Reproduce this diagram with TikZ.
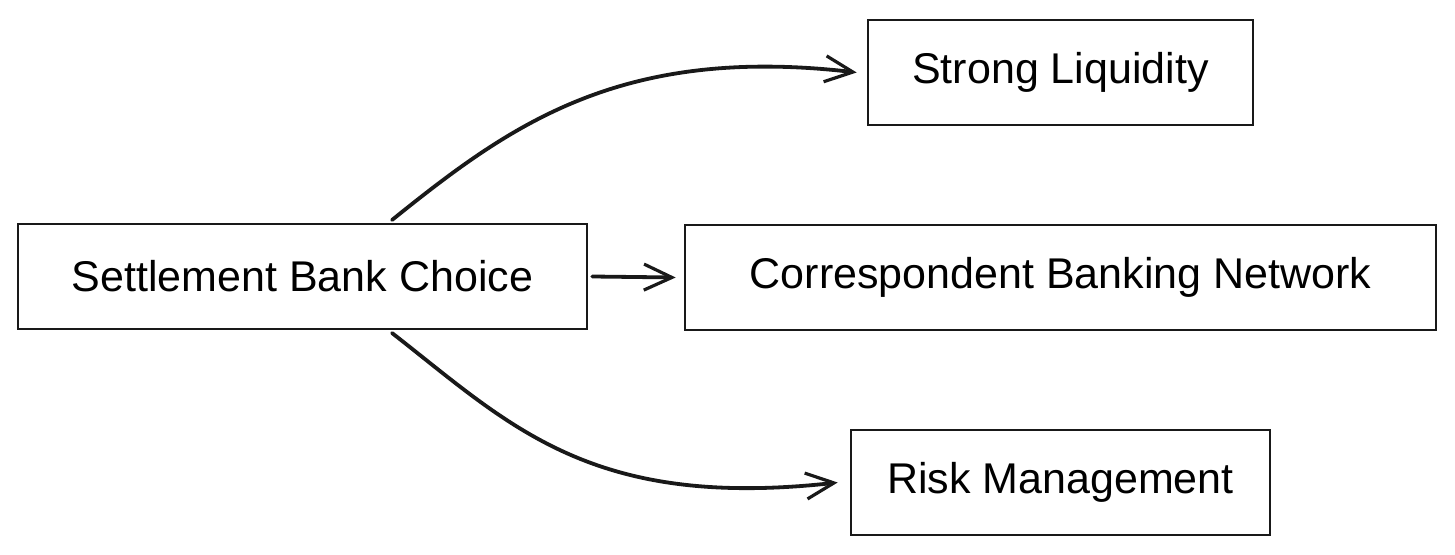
\documentclass[tikz,border=0pt]{standalone}
\usepackage{fontspec}
\setmainfont{Liberation Sans}
\usetikzlibrary{arrows.meta}
\begin{document}
\begin{tikzpicture}[x=0.5pt,y=-0.5pt,
  box/.style={draw=black!90,line width=1.3pt,minimum height=52.5pt,inner sep=0pt,font=\fontsize{21.5}{24}\selectfont},
  conn/.style={draw=black!90,line width=1.9pt,line cap=round,-{Straight Barb[length=14pt,width=13pt,line width=1.6pt]}}]
\useasboundingbox (0,0) rectangle (1455,555);
\node[box,minimum width=284.5pt] (sbc) at (302.5,276.5) {Settlement Bank Choice};
\node[box,minimum width=192.5pt] (sl) at (1060.5,72.5) {Strong Liquidity};
\node[box,minimum width=375.5pt] (cbn) at (1060.5,277.5) {Correspondent Banking Network};
\node[box,minimum width=209.5pt] (rm) at (1060.5,482.5) {Risk Management};
\coordinate (s1) at (392,220);
\coordinate (s3) at (392,333);
\draw[conn] (s1) .. controls (510,125) and (620,45) .. ([xshift=-5pt]sl.west);
\draw[conn] ([xshift=2pt]sbc.east) -- ([xshift=-4pt]cbn.west);
\draw[conn] (s3) .. controls (510,425) and (590,510) .. ([xshift=-6pt]rm.west);
\end{tikzpicture}
\end{document}
